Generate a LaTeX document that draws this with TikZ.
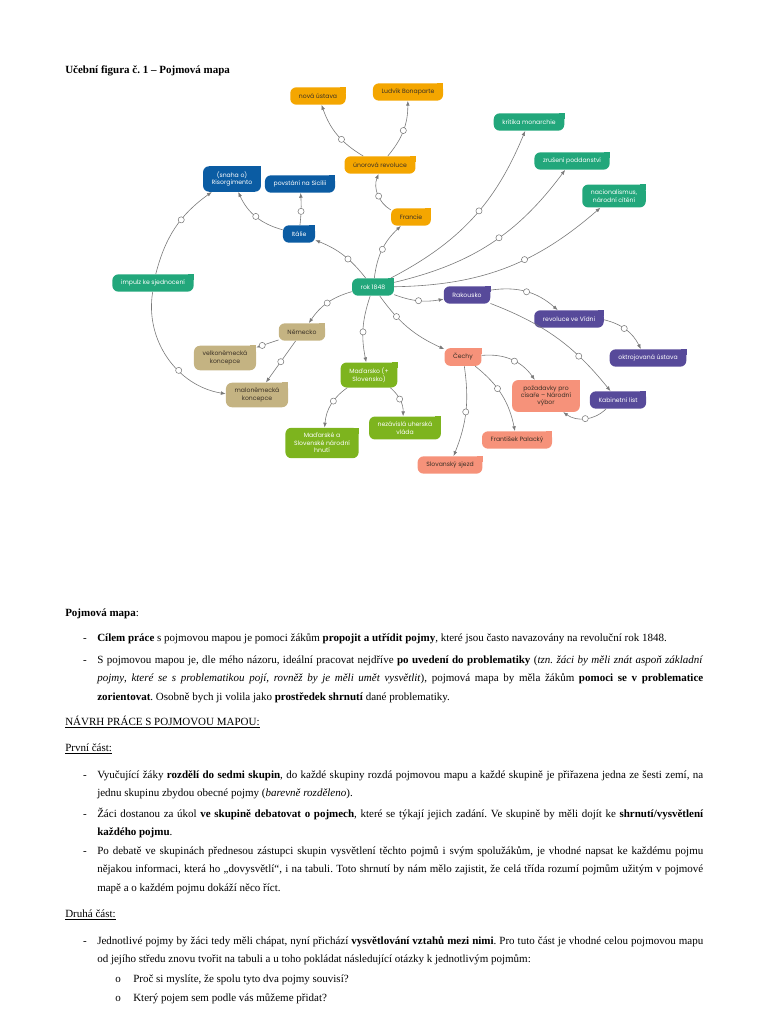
\documentclass[tikz,border=0pt]{standalone}
\usepackage{fontspec}
\setmainfont{Liberation Serif}
\newfontfamily\mapfont{Poppins}
\usetikzlibrary{arrows.meta}
\definecolor{oranzova}{HTML}{F4A600}
\definecolor{modra}{HTML}{0B5CA3}
\definecolor{tyrkys}{HTML}{22A77B}
\definecolor{fialova}{HTML}{574A9A}
\definecolor{bezova}{HTML}{C4B382}
\definecolor{losos}{HTML}{F6927A}
\definecolor{limetka}{HTML}{7DB41E}
\definecolor{linka}{HTML}{7A7A7A}
\definecolor{tmava}{HTML}{3A3026}
\newcommand\beznypis{\fontsize{8.25}{14.1}\selectfont}
\hyphenpenalty=10000
\exhyphenpenalty=10000
\frenchspacing
\begin{document}
\begin{tikzpicture}[x=0.75pt, y=0.75pt, every node/.style={align=center},
          pojem/.style={font=\mapfont\fontsize{4.6}{5.6}\selectfont, fill=#1, text=white,
            rounded corners=4.5pt, inner xsep=6.5pt, inner ysep=4pt, minimum height=13pt,
            append after command={\pgfextra{\fill[#1] ([xshift=-4.5pt,yshift=-4.5pt]\tikzlastnode.north east)
              rectangle (\tikzlastnode.north east);}}},
          tmavy/.style={text=tmava},
          vazba/.style={draw=linka, line width=0.45pt, -{Latex[length=3.6pt,width=2.8pt]}},
          kruh/.style={circle, draw=linka, fill=white, line width=0.4pt, inner sep=0pt, minimum size=4.6pt},
          radek/.style={anchor=base west, inner sep=0pt, font=\beznypis},
          odstavec/.style={radek, text width=454.5pt, align=justify},
          pomlcka/.style={anchor=base, inner sep=0pt, font=\beznypis}]
            \useasboundingbox (0,0) rectangle (768,-1024);
            % Nadpis
            \node[radek] (nadpis) at (65,-74) {\textbf{Učební figura č. 1 – Pojmová mapa}};
            % Pojmova mapa - stred
            \node[pojem=tyrkys] (rok) at (373,-287) {rok 1848};
            % Italie
            \node[pojem=modra] (italie) at (299,-234) {Itálie};
            \node[pojem=modra] (risorgimento) at (232,-179) {(snaha o)\\Risorgimento};
            \node[pojem=modra] (sicilie) at (300,-184) {povstání na Sicílii};
            % Francie
            \node[pojem=oranzova, tmavy] (francie) at (411,-217) {Francie};
            \node[pojem=oranzova, tmavy] (unorova) at (380,-165) {únorová revoluce};
            \node[pojem=oranzova, tmavy] (ustava) at (318,-96) {nová ústava};
            \node[pojem=oranzova, tmavy] (ludvik) at (408,-92) {Ludvík Bonaparte};
            % obecne pojmy
            \node[pojem=tyrkys] (kritika) at (529,-122) {kritika monarchie};
            \node[pojem=tyrkys] (zruseni) at (572,-161) {zrušení poddanství};
            \node[pojem=tyrkys] (nacionalismus) at (614,-196) {nacionalismus,\\národní cítění};
            \node[pojem=tyrkys] (impulz) at (153,-283) {impulz ke sjednocení};
            % Rakousko
            \node[pojem=fialova] (rakousko) at (467,-295) {Rakousko};
            \node[pojem=fialova] (viden) at (569,-319) {revoluce ve Vídni};
            \node[pojem=fialova] (oktroj) at (648,-358) {oktrojovaná ústava};
            \node[pojem=fialova] (kabinet) at (618,-400) {Kabinetní list};
            % Nemecko
            \node[pojem=bezova, tmavy] (nemecko) at (302,-332) {Německo};
            \node[pojem=bezova, tmavy] (velkonem) at (225,-358) {velkoněmecká\\koncepce};
            \node[pojem=bezova, tmavy] (malonem) at (257,-395) {maloněmecká\\koncepce};
            % Madarsko
            \node[pojem=limetka] (madarsko) at (369,-375) {Maďarsko (+\\Slovensko)};
            \node[pojem=limetka] (vlada) at (405,-428) {nezávislá uherská\\vláda};
            \node[pojem=limetka] (hnuti) at (322,-443) {Maďarské a\\Slovenské národní\\hnutí};
            % Cechy
            \node[pojem=losos, tmavy] (cechy) at (463,-357) {Čechy};
            \node[pojem=losos, tmavy] (pozadavky) at (546,-396) {požadavky pro\\císaře – Národní\\výbor};
            \node[pojem=losos, tmavy] (palacky) at (517,-440) {František Palacký};
            \node[pojem=losos, tmavy] (sjezd) at (450,-465) {Slovanský sjezd};
            % vazby
            \foreach \z/\k/\u/\p in {rok/italie/-15/0.4, italie/risorgimento/25/0.5, italie/sicilie/-5/0.42,
                impulz/risorgimento/20/0.6, impulz/malonem/-45/0.62, rok/francie/20/0.5,
                francie/unorova/40/0.45, unorova/ustava/20/0.4, unorova/ludvik/-20/0.5,
                rok/kritika/-20/0.55, rok/zruseni/-20/0.55, rok/nacionalismus/-20/0.6,
                rok/rakousko/-15/0.5, rakousko/viden/25/0.5, viden/oktroj/25/0.45,
                rakousko/kabinet/15/0.7, kabinet/pozadavky/40/0.5, rok/nemecko/-20/0.5,
                nemecko/velkonem/0/0.75, nemecko/malonem/0/0.5, rok/madarsko/-15/0.55,
                madarsko/hnuti/-25/0.4, madarsko/vlada/25/0.45, rok/cechy/-15/0.3,
                cechy/pozadavky/30/0.55, cechy/palacky/20/0.4, cechy/sjezd/15/0.5}
                \draw[vazba] (\z) to[bend left=\u] node[kruh, pos=\p] (k\z\k) {} (\k);
            % Text pod mapou
            \node[radek] (pm) at (65,-616) {\textbf{Pojmová mapa}:};
            \node[pomlcka] (p1) at (85,-641) {-};
            \node[odstavec] (o1) at (97,-641) {\textbf{Cílem práce} s pojmovou mapou je pomoci žákům \textbf{propojit a utřídit pojmy}, které jsou často navazovány na revoluční rok 1848.};
            \node[pomlcka] (p2) at (85,-663) {-};
            \node[odstavec] (o2) at (97,-663) {S pojmovou mapou je, dle mého názoru, ideální pracovat nejdříve \textbf{po uvedení do problematiky} (\textit{tzn. žáci by měli znát aspoň základní}\linebreak\textit{pojmy}, \textit{které se s~problematikou pojí, rovněž by je měli umět vysvětlit}), pojmová mapa by měla žákům \textbf{pomoci se v~problematice}\linebreak\textbf{zorientovat}. Osobně bych ji volila jako \textbf{prostředek shrnutí} dané problematiky.};
            \node[radek] (navrh) at (65,-725) {\underline{NÁVRH PRÁCE S POJMOVOU MAPOU:}};
            \node[radek] (prvni) at (65,-751) {\underline{První část:}};
            \node[pomlcka] (p3) at (85,-778) {-};
            \node[odstavec] (o3) at (97,-778) {Vyučující žáky \textbf{rozdělí do sedmi skupin}, do každé skupiny rozdá pojmovou mapu a každé skupině je přiřazena jedna ze šesti zemí, na jednu skupinu zbydou obecné pojmy (\textit{barevně rozděleno}).};
            \node[pomlcka] (p4) at (85,-817) {-};
            \node[odstavec] (o4) at (97,-817) {Žáci dostanou za úkol \textbf{ve skupině debatovat o pojmech}, které se týkají jejich zadání. Ve skupině by měli dojít ke \textbf{shrnutí/vysvětlení každého pojmu}.};
            \node[pomlcka] (p5) at (85,-854) {-};
            \node[odstavec] (o5) at (97,-854) {Po debatě ve skupinách přednesou zástupci skupin vysvětlení těchto pojmů i svým spolužákům, je vhodné napsat ke každému pojmu nějakou informaci, která ho „dovysvětlí“, i na tabuli. Toto shrnutí by nám mělo zajistit, že celá třída rozumí pojmům užitým v~pojmové mapě a o každém pojmu dokáží něco říct.};
            \node[radek] (druha) at (65,-917) {\underline{Druhá část:}};
            \node[pomlcka] (p6) at (85,-944) {-};
            \node[odstavec] (o6) at (97,-944) {Jednotlivé pojmy by žáci tedy měli chápat, nyní přichází \textbf{vysvětlování vztahů mezi nimi}. Pro tuto část je vhodné celou pojmovou mapu od jejího středu znovu tvořit na tabuli a u toho pokládat následující otázky k jednotlivým pojmům:};
            \node[pomlcka] (s1) at (118,-982) {o};
            \node[radek] (t1) at (133,-982) {Proč si myslíte, že spolu tyto dva pojmy souvisí?};
            \node[pomlcka] (s2) at (118,-1001) {o};
            \node[radek] (t2) at (133,-1001) {Který pojem sem podle vás můžeme přidat?};
        \end{tikzpicture}
\end{document}
